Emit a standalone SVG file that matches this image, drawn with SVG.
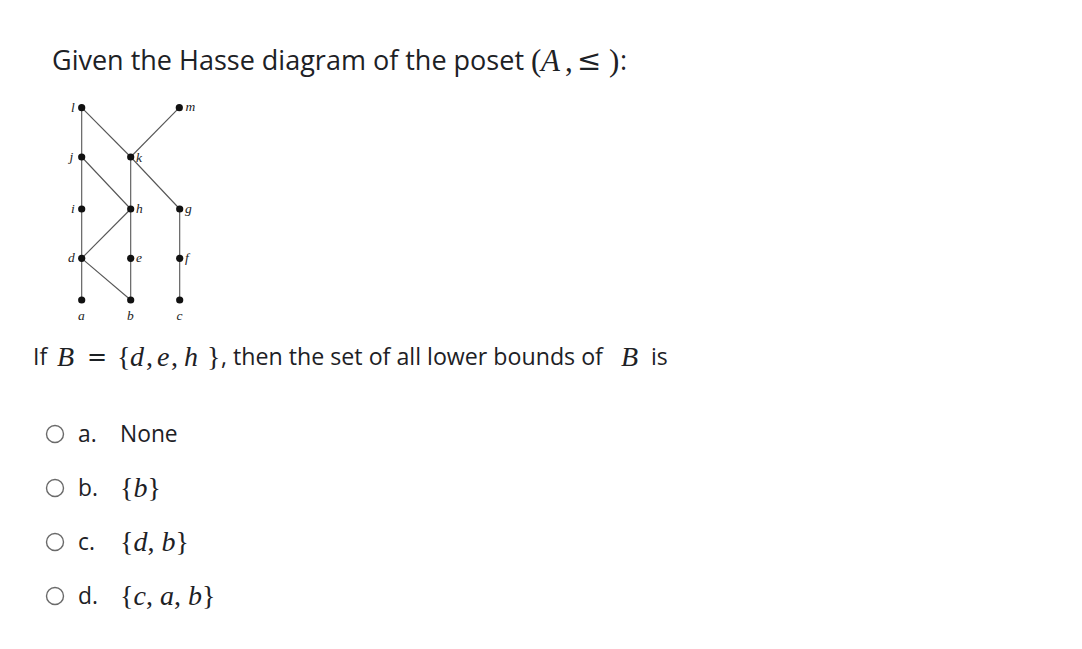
<svg xmlns="http://www.w3.org/2000/svg" width="1082" height="649" viewBox="0 0 1082 649">
<style>
.t{font-family:"Open Sans","Noto Sans",sans-serif;fill:#1d2125}
.m{font-family:"Liberation Serif",serif;font-style:italic;fill:#1d2125}
.mr{font-family:"Liberation Serif",serif;font-style:normal;fill:#1d2125}
.sym{font-family:"DejaVu Serif",serif;font-style:normal;fill:#1d2125}
.lbl{font-family:"Liberation Serif",serif;font-style:italic;font-size:13.5px;fill:#222}
.e{stroke:#555;stroke-width:1.1}
.n{fill:#111}
.r{fill:none;stroke:#6a6a6a;stroke-width:1.4}
</style>
<rect width="1082" height="649" fill="#fff"/>
<text class="t" x="52" y="70" font-size="27">Given the Hasse diagram of the poset</text>
<text class="mr" y="71" font-size="31"><tspan x="531">(</tspan><tspan class="m" x="541">A</tspan><tspan x="565">,</tspan><tspan x="609">)</tspan></text>
<text class="sym" x="577" y="70" font-size="29">≤</text>
<text class="t" x="620" y="70" font-size="27">:</text>
<g id="connectors">
<line class="e" x1="81.7" y1="107.7" x2="81.7" y2="300"/>
<line class="e" x1="81.7" y1="107.7" x2="130.7" y2="157"/>
<line class="e" x1="179.3" y1="107.7" x2="130.7" y2="157"/>
<line class="e" x1="130.7" y1="157" x2="130.7" y2="300"/>
<line class="e" x1="81.7" y1="157" x2="130.7" y2="209"/>
<line class="e" x1="130.7" y1="157" x2="179.7" y2="209"/>
<line class="e" x1="130.7" y1="209" x2="81.7" y2="258.3"/>
<line class="e" x1="81.7" y1="258.3" x2="130.7" y2="300"/>
<line class="e" x1="179.7" y1="209" x2="179.7" y2="300"/>
</g>
<g id="node-l"><circle class="n" cx="81.7" cy="107.7" r="3.6"/><text class="lbl" x="71" y="112">l</text></g>
<g id="node-m"><circle class="n" cx="179.3" cy="107.7" r="3.6"/><text class="lbl" x="185.5" y="111">m</text></g>
<g id="node-j"><circle class="n" cx="81.7" cy="157" r="3.6"/><text class="lbl" x="69.5" y="161">j</text></g>
<g id="node-k"><circle class="n" cx="130.7" cy="157" r="3.6"/><text class="lbl" x="136" y="162">k</text></g>
<g id="node-i"><circle class="n" cx="81.7" cy="209" r="3.6"/><text class="lbl" x="71" y="213">i</text></g>
<g id="node-h"><circle class="n" cx="130.7" cy="209" r="3.6"/><text class="lbl" x="136" y="213">h</text></g>
<g id="node-g"><circle class="n" cx="179.7" cy="209" r="3.6"/><text class="lbl" x="185" y="213">g</text></g>
<g id="node-d"><circle class="n" cx="81.7" cy="258.3" r="3.6"/><text class="lbl" x="68" y="262">d</text></g>
<g id="node-e"><circle class="n" cx="130.7" cy="258.3" r="3.6"/><text class="lbl" x="136" y="262">e</text></g>
<g id="node-f"><circle class="n" cx="179.7" cy="258.3" r="3.6"/><text class="lbl" x="185" y="262">f</text></g>
<g id="node-a"><circle class="n" cx="81.7" cy="300" r="3.6"/><text class="lbl" x="78" y="320">a</text></g>
<g id="node-b"><circle class="n" cx="130.7" cy="300" r="3.6"/><text class="lbl" x="127" y="320">b</text></g>
<g id="node-c"><circle class="n" cx="179.7" cy="300" r="3.6"/><text class="lbl" x="176.5" y="320">c</text></g>
<text class="t" x="33" y="365" font-size="23">If</text>
<text class="mr" y="366" font-size="28"><tspan class="m" x="57">B</tspan><tspan x="117">{</tspan><tspan class="m" x="130">d</tspan><tspan x="146">,</tspan><tspan class="m" x="157">e</tspan><tspan x="171">,</tspan><tspan class="m" x="184">h</tspan><tspan x="207">}</tspan></text>
<text class="sym" x="87" y="365" font-size="24">=</text>
<text class="t" x="221" y="365" font-size="23.2">, then the set of all lower bounds of</text>
<text class="m" x="621" y="366" font-size="28">B</text>
<text class="t" x="651" y="365" font-size="23">is</text>
<g id="opt-a"><circle class="r" cx="55" cy="434" r="8.5"/><text class="t" x="78" y="442" font-size="22.8">a.</text><text class="t" x="120" y="442" font-size="22.8">None</text></g>
<g id="opt-b"><circle class="r" cx="55" cy="488" r="8.5"/><text class="t" x="78" y="496" font-size="22.8">b.</text><text class="mr" x="120" y="497" font-size="28">{<tspan class="m">b</tspan>}</text></g>
<g id="opt-c"><circle class="r" cx="55" cy="542" r="8.5"/><text class="t" x="78" y="550" font-size="22.8">c.</text><text class="mr" x="120" y="551" font-size="28">{<tspan class="m">d</tspan>, <tspan class="m">b</tspan>}</text></g>
<g id="opt-d"><circle class="r" cx="55" cy="596" r="8.5"/><text class="t" x="78" y="604" font-size="22.8">d.</text><text class="mr" x="120" y="605" font-size="28">{<tspan class="m">c</tspan>, <tspan class="m">a</tspan>, <tspan class="m">b</tspan>}</text></g>
</svg>
